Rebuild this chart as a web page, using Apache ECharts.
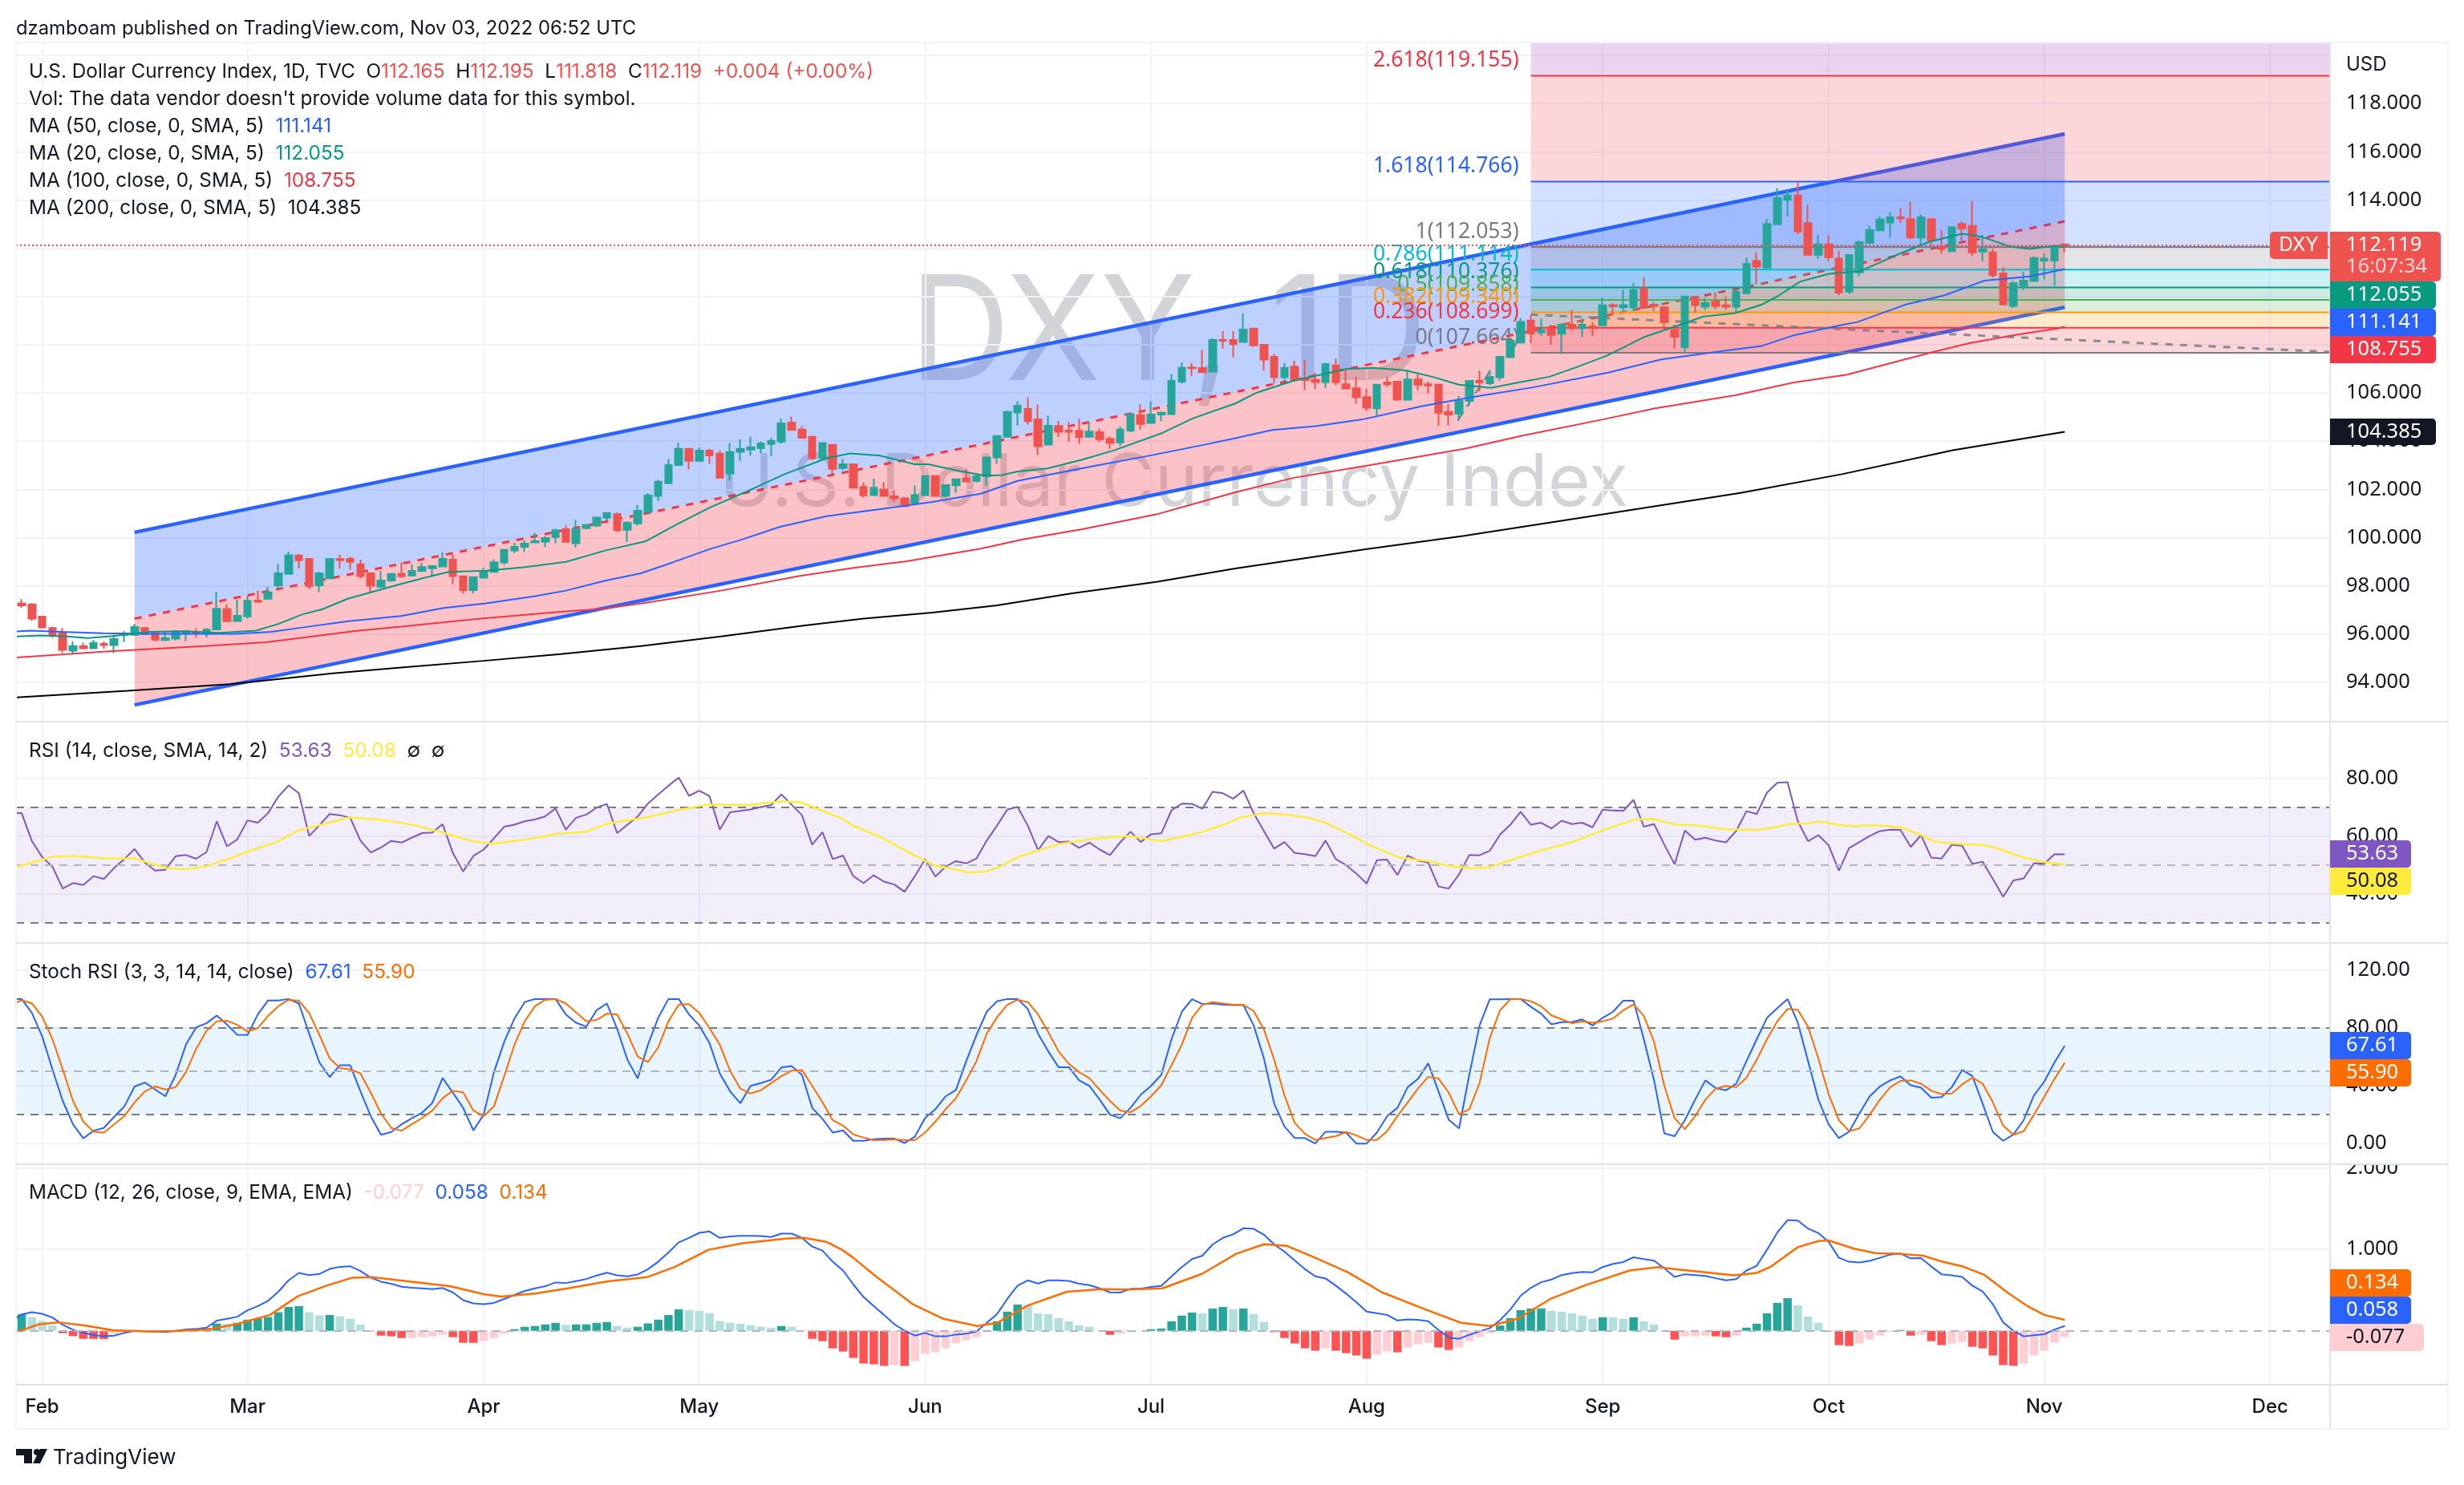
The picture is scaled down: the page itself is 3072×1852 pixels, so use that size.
<!DOCTYPE html>
<html>
<head>
<meta charset="utf-8">
<title>DXY 1D</title>
<script src="https://cdn.jsdelivr.net/npm/echarts@6/dist/echarts.min.js"></script>
<style>
  html, body { margin: 0; padding: 0; background: #fff; }
  #chart { width: 3072px; height: 1852px; }
</style>
</head>
<body>
<div id="chart"></div>
<script>
// ─── Data ───────────────────────────────────────────────────────────────────
// Bar 0 is Jan 28 2022, bar 199 is Nov 3 2022. Trading days, no weekends.

const monthBars = [2, 22, 45, 66, 88, 110, 131, 154, 176, 197, 219];
const monthNames = ['Feb', 'Mar', 'Apr', 'May', 'Jun', 'Jul', 'Aug', 'Sep', 'Oct', 'Nov', 'Dec'];

const opens = [
  97.27,97.23,96.72,96.25,96.03,95.31,95.49,95.41,95.59,95.54,
  95.97,95.97,96.25,96.03,95.75,95.81,96.05,96.09,96.03,96.19,
  97.03,96.54,96.73,97.39,97.46,98.02,98.49,99.26,99.12,98.02,
  98.31,99.11,99.12,98.89,98.52,97.96,98.22,98.49,98.43,98.62,
  98.73,98.80,99.08,98.39,97.82,98.34,98.58,98.97,99.47,99.62,
  99.80,99.83,100.02,100.35,99.77,100.39,100.50,100.82,100.98,100.32,
  100.59,101.07,101.73,102.25,103.01,103.68,103.18,103.61,103.48,102.66,
  103.56,103.65,103.71,103.88,103.98,104.77,104.48,104.18,103.29,103.85,
  102.88,103.04,102.10,101.76,101.99,101.71,101.63,101.44,101.76,102.55,
  101.73,102.17,102.46,102.35,102.55,103.32,104.18,105.19,105.34,104.90,
  103.86,104.63,104.45,104.43,104.18,104.37,104.10,103.95,104.44,105.08,
  104.75,105.10,105.12,106.47,107.06,107.03,106.88,108.20,108.20,108.11,
  108.67,108.00,107.50,106.65,107.09,106.61,106.54,106.45,107.14,106.36,
  106.19,105.83,105.36,106.43,106.47,105.72,106.56,106.36,106.34,105.21,
  105.14,105.67,106.50,106.40,106.65,107.48,108.09,109.00,108.50,108.65,
  108.45,108.83,108.69,108.76,108.80,109.64,109.55,109.55,110.33,109.66,
  109.55,108.61,107.89,109.98,109.58,109.80,109.63,109.58,110.13,111.47,
  111.20,112.99,114.01,114.19,113.04,111.73,112.16,111.57,110.20,111.00,
  112.22,112.74,113.07,113.28,113.21,112.44,113.21,112.07,111.88,113.01,
  112.93,111.86,111.83,110.96,109.61,110.46,110.64,111.49,111.49,112.165,
];
const closes = [
  97.19,96.64,96.27,95.94,95.34,95.50,95.41,95.63,95.54,95.79,
  96.01,96.29,95.99,95.77,95.83,96.12,96.12,96.05,96.18,97.05,
  96.53,96.76,97.38,97.34,97.73,98.52,99.27,99.06,97.99,98.52,
  99.12,99.07,98.99,98.40,98.00,98.22,98.49,98.39,98.62,98.78,
  98.82,99.12,98.40,97.82,98.36,98.61,98.98,99.49,99.62,99.75,
  99.85,99.98,100.31,99.82,100.35,100.52,100.83,101.02,100.31,100.62,
  101.11,101.75,102.32,103.01,103.68,103.18,103.61,103.41,102.48,103.55,
  103.68,103.75,103.91,104.01,104.74,104.46,104.14,103.29,103.92,102.85,
  103.04,102.07,101.75,102.07,101.73,101.62,101.30,101.77,102.55,101.73,
  102.18,102.42,102.33,102.55,103.32,104.21,105.21,105.47,104.83,103.79,
  104.64,104.39,104.39,104.16,104.40,104.08,103.92,104.48,105.12,104.71,
  105.10,105.18,106.51,107.04,107.02,106.86,108.20,108.16,108.02,108.63,
  107.97,107.38,106.65,107.04,106.54,106.53,106.45,107.20,106.44,106.18,
  105.82,105.39,106.34,106.36,105.73,106.56,106.34,106.31,105.18,105.10,
  105.67,106.50,106.43,106.67,107.50,108.17,108.95,108.47,108.61,108.40,
  108.83,108.69,108.83,108.69,109.63,109.59,109.64,110.27,109.53,109.61,
  108.93,108.33,110.00,109.64,109.73,109.60,109.58,110.20,111.35,111.24,
  113.01,114.08,114.19,112.69,111.73,112.16,111.63,110.16,111.72,112.25,
  112.75,113.19,113.28,113.24,112.44,113.28,112.33,111.97,112.88,112.82,
  111.83,111.97,110.89,109.67,110.55,110.66,111.60,111.57,112.08,112.119,
];
const highs = [
  97.45,97.28,96.72,96.31,96.25,95.70,95.63,95.75,95.70,95.97,
  96.12,96.42,96.27,96.05,96.12,96.16,96.16,96.25,96.25,97.75,
  97.23,97.42,97.58,97.80,97.95,98.91,99.42,99.32,99.13,98.58,
  99.13,99.28,99.21,99.08,98.52,98.62,98.52,98.98,98.89,98.96,
  98.86,99.39,99.30,98.41,98.38,98.75,99.09,99.51,99.78,99.89,
  100.19,100.06,100.37,100.52,100.74,100.57,100.87,101.04,101.04,100.66,
  101.35,101.85,102.39,103.27,103.94,103.68,103.73,103.68,103.61,103.93,
  104.07,104.18,103.98,104.14,104.94,105.01,104.62,104.18,103.96,103.88,
  103.27,103.07,102.29,102.44,102.29,101.96,101.68,102.17,102.57,102.57,
  102.21,102.46,102.84,102.63,103.35,104.23,105.26,105.65,105.81,105.51,
  105.06,104.84,104.79,104.93,104.79,104.51,104.20,104.61,105.15,105.53,
  105.64,105.23,106.78,107.26,107.23,107.80,108.27,108.56,108.56,109.30,
  108.69,108.03,107.61,107.25,107.34,107.36,106.84,107.25,107.43,106.95,
  106.67,106.18,106.36,106.67,106.47,106.89,106.78,106.47,106.36,105.54,
  105.87,106.53,106.93,106.95,107.54,108.17,109.11,109.22,109.09,108.83,
  108.89,109.44,109.09,108.94,109.94,109.72,110.27,110.55,110.80,109.77,
  109.55,108.83,110.00,110.00,109.94,110.17,110.00,110.27,111.60,111.83,
  113.21,114.49,114.43,114.77,113.79,112.55,112.55,111.88,111.72,112.33,
  112.94,113.32,113.49,113.66,113.92,113.41,113.21,112.77,112.90,113.10,
  113.96,112.55,111.99,111.22,110.64,111.03,111.66,111.79,112.16,112.195,
];
const lows = [
  97.08,96.55,96.23,95.84,95.23,95.14,95.37,95.39,95.39,95.21,
  95.67,95.94,95.96,95.70,95.73,95.73,95.70,95.86,95.86,96.19,
  96.53,96.54,96.64,97.30,97.46,97.88,98.49,98.72,97.86,97.74,
  98.31,98.71,98.67,98.30,97.75,97.91,98.16,98.34,98.40,98.58,
  98.41,98.80,98.06,97.69,97.69,98.31,98.54,98.87,99.36,99.40,
  99.77,99.62,99.77,99.82,99.59,100.39,100.44,100.71,100.23,99.82,
  100.49,101.07,101.52,102.22,102.98,102.83,103.18,103.06,102.45,102.36,
  103.18,103.41,103.51,103.38,103.90,104.43,104.12,103.21,103.24,102.63,
  102.79,102.04,101.66,101.74,101.71,101.46,101.30,101.41,101.74,101.71,
  101.68,101.85,102.29,102.29,102.15,103.07,104.18,104.65,104.68,103.43,
  103.86,104.18,103.97,103.88,104.14,103.97,103.68,103.81,104.37,104.48,
  104.75,104.82,105.12,106.39,106.71,106.82,106.87,107.84,107.47,108.09,
  107.91,106.92,106.39,106.47,106.47,106.12,106.16,106.21,106.32,106.14,
  105.56,105.25,105.03,106.25,105.67,105.71,106.12,105.98,104.65,104.65,
  104.84,105.47,106.06,106.32,106.50,107.48,108.06,108.06,108.37,108.00,
  107.61,108.58,108.31,108.36,108.78,109.24,109.39,109.39,109.50,109.39,
  108.61,107.84,107.67,109.33,109.44,109.47,109.44,109.33,110.13,110.50,
  111.16,112.97,113.32,112.58,111.72,111.57,111.46,110.05,110.11,110.83,
  112.22,112.71,112.44,113.05,112.38,112.16,112.10,111.77,111.86,112.21,
  111.68,111.46,110.77,109.64,109.53,110.27,110.61,110.72,110.44,111.818,
];

// moving averages, read at the bars where the curve bends
const ma200Bars = [-0.5,10.3,20.3,30.3,36.95,45,52.5,60.3,68.1,76.3,82,88.7,95,102.3,110.5,118.2,130.9,140.5,154,167.4,177.3,188.1,199];
const ma200Values = [93.37,93.65,93.92,94.37,94.61,94.89,95.17,95.50,95.90,96.36,96.64,96.89,97.19,97.69,98.16,98.72,99.52,100.07,100.96,101.85,102.63,103.62,104.385];

const ma100Bars = [-0.5,7.9,17.8,23.8,32.8,36.95,44.7,52.5,56.6,60.8,68.1,75.8,81,86.2,93.4,97.6,103.3,110.5,114.7,118.2,123.9,131.7,140.5,146.2,154,159.1,166.9,172.6,177.8,182,186.1,189.7,194.4,198.5,199];
const ma100Values = [95.03,95.27,95.50,95.66,96.14,96.31,96.64,96.92,97.05,97.30,97.80,98.41,98.74,99.02,99.54,99.93,100.35,100.96,101.46,101.88,102.48,103.03,103.68,104.23,104.90,105.36,105.90,106.43,106.76,107.23,107.69,108.06,108.42,108.69,108.755];

const ma50Bars = [-0.5,0.9,3.9,7.9,12.8,20.8,24.3,27.3,31.8,36.95,41.1,45.2,49.9,53,56.9,60.3,63.4,67,70.1,73.8,78.4,83.6,88.7,93.4,97,104.3,109.5,114.7,118.2,121.8,126,130.6,136.4,141.5,147.2,154.5,159.7,166.4,169.5,172.6,176.8,178.8,183.5,187.3,191.2,195.6,199];
const ma50Values = [96.11,96.14,96.09,96.03,96.01,96.01,96.09,96.27,96.53,96.75,97.08,97.27,97.56,97.80,98.22,98.52,98.97,99.52,99.91,100.44,100.89,101.18,101.48,101.82,102.35,102.96,103.37,103.81,104.12,104.46,104.62,104.90,105.45,105.84,106.23,106.84,107.39,107.78,107.95,108.39,108.78,108.94,109.665,110.05,110.66,110.83,111.141];

const ma20Bars = [-0.5,1.9,4.4,6.4,8.9,12.4,15.8,19.3,22.8,25,27.3,29.3,31.8,36.95,39.5,41.6,45.2,48.9,53,56.9,60.8,63.9,67,71.2,74.3,78.4,80.7,83.6,87,88.3,91.4,93.9,95.5,97,99.9,103.3,106.4,111.1,114.1,118.2,120.3,123.9,129.1,131.7,134.8,137.4,140,143.1,146.2,148.8,151.4,154.5,158.1,161.2,163.8,166.9,169.5,171,173.2,176,179.1,182.9,185.8,189,190.8,193.7,195.6,198.1,199];
const ma20Values = [95.90,95.94,95.90,95.83,95.92,96.09,96.12,96.05,96.14,96.42,96.81,97.03,97.47,98.08,98.36,98.58,98.63,98.77,98.99,99.47,99.85,100.57,101.24,102.02,102.63,103.29,103.49,103.40,103.04,103.04,102.76,102.57,102.59,102.74,102.87,103.23,103.62,104.34,104.95,105.56,106.01,106.51,107.00,107.04,106.93,106.67,106.34,106.21,106.47,106.67,107.06,107.56,108.33,108.78,109.17,109.31,109.665,110.00,110.61,110.94,111.05,111.77,112.27,112.60,112.49,112.07,111.97,112.10,112.055];

// drawings: regression channel, fib levels, two grey dashed lines
const channelBars = [11, 199];
const channelUpper = [100.22, 116.74];
const channelMedian = [96.64, 113.12];
const channelLower = [93.06, 109.55];

const fibStartBar = 147;
const fibRatios = ['2.618', '1.618', '1', '0.786', '0.618', '0.5', '0.382', '0.236', '0'];
const fibPrices = [119.155, 114.766, 112.053, 111.114, 110.376, 109.858, 109.340, 108.699, 107.664];
const fibTrendBars = [147, 224.84];
const fibTrendValues = [109.25, 107.70];
const stubBars = [139.9, 143];
const stubValues = [104.87, 106.90];

const lastPrice = 112.119;

// indicators start one bar before the first candle, at bar -1
const rsiValues = [
  67.9,67.9,58.2,52.7,49.4,41.8,43.7,43.0,46.1,45.1,48.9,52.0,55.5,50.8,48.0,48.3,53.0,53.4,52.1,54.4,65.1,
  56.4,58.8,65.4,64.6,67.9,73.6,77.5,74.8,60.0,63.7,67.6,67.2,66.3,58.4,54.3,56.0,58.3,57.7,59.4,61.0,
  61.2,64.1,54.1,47.7,53.1,55.3,59.2,63.2,63.9,65.1,65.7,66.8,69.5,62.2,66.3,67.4,69.8,71.1,61.0,63.9,
  66.7,71.2,74.4,77.4,80.2,73.9,75.7,73.8,62.2,68.2,68.7,69.2,70.0,70.7,74.4,70.8,67.2,57.0,61.3,52.0,
  53.2,46.1,43.7,46.4,44.2,43.2,40.7,46.1,52.0,45.9,49.4,51.3,50.5,52.2,58.4,63.6,69.1,70.1,63.6,55.1,
  60.0,57.9,58.1,55.9,57.7,55.3,53.4,57.8,61.5,57.9,60.6,60.9,68.9,71.2,71.1,69.4,75.3,74.8,72.9,75.7,
  67.9,61.7,55.6,57.9,54.1,53.7,53.0,58.4,52.0,49.9,47.0,43.5,51.6,51.8,46.5,53.2,51.5,50.8,42.5,41.8,
  46.7,53.4,53.3,54.9,60.5,63.9,68.4,63.9,64.6,62.6,65.3,64.1,64.6,63.0,69.1,68.8,68.7,72.5,63.2,64.1,
  57.0,50.2,61.9,58.7,59.4,58.4,57.8,61.7,68.6,67.6,75.0,78.4,78.6,65.1,58.2,60.3,56.8,48.0,55.8,57.9,
  60.0,61.7,62.2,62.1,56.2,60.3,52.5,52.2,57.0,56.6,50.3,51.1,45.1,38.9,44.6,45.3,50.6,50.4,53.7,53.63,
];
const rsiMaBars = [-0.4,3.1,5,8.3,11,14.1,16,18.2,20.4,22,25,26.9,29.4,31.9,35.2,38.2,41.2,43.9,45.8,49.4,52.1,54.9,57.1,60.9,64.2,66.9,70.8,74,75.9,77.9,79.9,81,83.2,84.8,87,89,91,92.2,93.9,95.2,96.9,99.1,101,104,107.8,111.1,113.3,114.9,117.2,118.8,121,123.2,125.1,127,129.2,131.2,134.2,137,139,141.3,143,146.2,147.9,151.2,154,157.2,158.9,161,163.2,166.1,169,171.1,172.1,174,175.1,177.2,178.4,180.6,183,185,186.2,188.1,191,192.2,195.1,197,199];
const rsiMaValues = [49.4,52.9,53.1,52.2,52.2,48.9,48.4,49.7,52.4,54.6,58.1,61.9,64.1,66.4,65.6,63.8,61.0,58.2,57.3,58.9,60.7,61.4,64.3,66.5,69.2,70.9,70.7,72.0,71.6,68.9,66.0,63.6,60.3,57.5,53.2,49.7,48.4,47.4,47.7,49.2,52.5,55.1,57.2,58.9,60.0,58.2,60.0,61.3,64.1,66.5,67.9,67.4,66.5,64.6,60.8,57.0,52.5,51.3,49.7,48.8,49.2,53.0,54.9,58.1,62.0,65.8,65.9,64.0,63.6,62.3,62.1,63.2,64.1,64.4,65.1,63.7,63.4,63.7,63.0,60.3,58.1,57.4,56.9,56.0,52.4,51.0,50.08];

const stochK = [
  100,100,90.3,74.1,51.3,29.5,13.3,3.6,8.9,10.8,18.4,25.7,39.5,42.2,37.4,32.7,47.5,68.4,80.4,83.2,88.5,
  82.3,75.2,75.1,89.3,99.0,99.0,100,96.9,76.0,56.1,46.0,54.2,54.2,36.1,19.0,6.1,8.0,13.3,17.5,21.3,
  28.1,45.4,35.2,24.7,9.1,20.0,49.4,70.3,86.5,97.9,100,100,100,89.3,83.6,80.9,92.2,96.9,79.4,58.0,
  45.0,68.4,87.0,100,100,89.3,81.7,69.4,48.5,36.1,27.9,39.9,41.8,44.1,52.6,53.6,47.5,24.7,17.1,7.6,
  9.1,1.9,1.9,3.0,3.4,3.4,0.4,4.8,17.7,23.8,32.7,37.1,57.0,75.1,91.2,98.4,100,100,93.1,76.0,
  63.7,52.8,52.8,43.7,39.9,30.4,20.0,17.5,24.7,33.8,39.9,47.5,72.2,91.2,99.9,96.5,96.9,96.0,95.8,95.8,
  81.7,58.9,27.6,11.8,3.8,3.8,0,8.2,8.2,7.6,0,0,7.6,19.0,24.7,39.0,44.7,55.5,36.1,16.5,
  10.5,47.5,81.7,99.8,99.8,100,100,94.6,89.9,82.5,84.0,84.0,85.9,81.7,87.0,91.2,98.8,98.8,72.2,43.7,
  7.0,5.1,16.2,30.4,43.7,38.4,36.9,41.4,57.0,72.2,87.0,93.7,100,83.6,57.0,30.4,13.3,3.8,8.2,20.9,
  32.7,39.5,43.7,46.4,40.3,38.6,31.7,32.1,39.0,50.9,46.7,27.6,8.0,1.9,6.3,16.2,33.3,42.8,56.1,67.61,
];
const stochD = [
  96.0,99.2,96.9,87.8,72.2,51.3,29.5,15.2,8.2,7.6,13.3,19.0,28.5,36.1,39.5,37.4,39.0,49.4,65.6,77.9,84.6,
  84.9,82.1,77.5,79.8,88.4,95.0,99.4,98.8,90.3,75.1,58.9,52.3,51.3,48.5,35.2,20.9,10.8,8.9,13.3,17.7,
  22.8,31.4,36.5,35.5,22.8,19.0,25.7,46.6,68.4,84.6,95.0,99.4,100,96.9,90.8,84.6,85.5,89.9,89.3,76.0,
  60.2,56.4,66.5,84.6,96.0,96.5,90.3,79.8,68.4,50.4,38.0,34.6,36.9,41.8,46.6,50.4,50.9,39.9,28.5,16.2,
  12.4,6.3,4.2,2.3,2.5,2.9,2.5,2.3,7.6,15.2,23.8,31.4,43.7,57.0,76.0,87.4,96.0,99.4,97.9,89.3,
  77.0,63.7,55.1,49.4,45.2,37.1,29.5,22.8,21.7,26.0,32.7,40.3,54.2,68.4,87.0,96.0,97.9,96.9,96.1,96.0,
  91.6,78.9,58.0,33.3,14.3,6.7,2.5,3.8,5.1,8.0,5.7,2.5,2.5,8.6,19.0,28.5,38.0,46.2,45.0,35.2,
  20.3,23.8,41.8,73.2,92.2,99.8,100,98.4,95.0,88.7,85.9,83.2,84.6,83.6,84.6,86.5,92.2,96.3,88.4,70.3,
  39.9,17.5,9.9,19.0,30.4,38.0,39.9,39.0,45.6,58.0,72.2,84.6,93.1,92.5,80.8,58.9,34.2,16.2,8.6,10.5,
  20.0,30.4,39.0,43.3,43.7,41.4,36.5,34.2,34.6,40.9,45.6,41.4,28.5,12.4,6.1,8.6,20.0,32.3,44.7,55.90,
];

const macdValues = [
  0.114,0.202,0.228,0.209,0.163,0.075,0.013,-0.026,-0.052,-0.068,-0.059,-0.026,0,-0.003,-0.010,-0.016,0,0.016,0.023,0.039,0.124,
  0.147,0.173,0.251,0.303,0.368,0.479,0.619,0.710,0.684,0.697,0.759,0.785,0.792,0.733,0.652,0.603,0.577,0.541,0.528,0.521,
  0.512,0.525,0.472,0.375,0.336,0.326,0.342,0.391,0.440,0.489,0.521,0.547,0.593,0.586,0.609,0.635,0.678,0.713,0.681,0.668,
  0.691,0.756,0.847,0.961,1.085,1.140,1.202,1.218,1.140,1.157,1.166,1.166,1.163,1.150,1.192,1.192,1.140,1.033,0.984,0.847,
  0.740,0.570,0.414,0.303,0.195,0.081,0,-0.059,-0.026,-0.068,-0.068,-0.046,-0.036,-0.007,0.098,0.205,0.391,0.554,0.619,0.580,
  0.619,0.619,0.612,0.577,0.560,0.521,0.472,0.469,0.515,0.515,0.538,0.551,0.668,0.782,0.880,0.922,1.059,1.140,1.183,1.258,
  1.251,1.179,1.059,0.971,0.863,0.756,0.668,0.642,0.554,0.456,0.352,0.235,0.215,0.195,0.127,0.140,0.134,0.117,0.010,-0.081,
  -0.098,-0.049,-0.007,0.033,0.130,0.261,0.430,0.528,0.596,0.629,0.684,0.707,0.723,0.717,0.782,0.821,0.844,0.902,0.880,0.860,
  0.766,0.661,0.694,0.684,0.674,0.645,0.619,0.635,0.740,0.798,0.994,1.205,1.359,1.352,1.254,1.199,1.091,0.896,0.847,0.837,
  0.857,0.896,0.935,0.948,0.889,0.893,0.788,0.694,0.681,0.661,0.554,0.482,0.326,0.104,0,-0.068,-0.055,-0.042,0.016,0.058,
];
const signalBars = [-0.3,1.7,3.6,6.1,8.9,12.2,14.9,18.2,20.9,24.2,26.9,29.7,32.2,34.1,37.3,41.7,45,46.7,50,53.2,57.1,60.9,63.6,66.9,70.2,74.6,76.2,78.4,79.9,81,83.2,86.8,89.8,93.1,95,98,101.8,105.1,107.8,111.1,115,118.3,121,123.2,126,129.2,132.5,136.9,140.2,143,145.7,148.9,152.2,156.6,159.4,161,166.8,169,170.3,173,175,176,178.4,180.6,182.8,185.2,187.1,189.1,191.2,193.4,195.4,197,199];
const signalValues = [-0.007,0.081,0.104,0.065,0.007,-0.007,-0.003,0.016,0.081,0.195,0.424,0.554,0.652,0.658,0.612,0.547,0.450,0.420,0.456,0.521,0.606,0.658,0.782,0.994,1.075,1.134,1.140,1.091,0.994,0.896,0.668,0.326,0.147,0.059,0.098,0.310,0.479,0.512,0.505,0.521,0.700,0.945,1.062,1.043,0.896,0.717,0.472,0.254,0.098,0.059,0.147,0.391,0.554,0.740,0.782,0.756,0.681,0.710,0.782,1.026,1.101,1.108,1.010,0.951,0.945,0.922,0.847,0.788,0.684,0.472,0.300,0.195,0.134];
const histValues = [
  0.202,0.169,0.121,0.065,-0.029,-0.065,-0.098,-0.099,-0.100,-0.039,
  -0.023,-0.007,-0.003,-0.007,-0.013,-0.003,0.007,0.016,0.033,0.088,
  0.086,0.098,0.137,0.150,0.169,0.228,0.293,0.303,0.228,0.189,
  0.195,0.176,0.147,0.078,-0.007,-0.059,-0.068,-0.088,-0.085,-0.078,
  -0.068,-0.049,-0.078,-0.147,-0.148,-0.124,-0.088,-0.036,0.020,0.049,
  0.059,0.078,0.098,0.072,0.078,0.079,0.098,0.108,0.059,0.039,
  0.049,0.091,0.137,0.195,0.264,0.254,0.244,0.215,0.121,0.098,
  0.088,0.068,0.049,0.039,0.059,0.049,0.007,-0.098,-0.127,-0.215,
  -0.254,-0.332,-0.401,-0.411,-0.430,-0.420,-0.431,-0.371,-0.283,-0.264,
  -0.215,-0.156,-0.117,-0.078,0.007,0.117,0.235,0.323,0.313,0.215,
  0.205,0.156,0.117,0.068,0.049,0.007,-0.049,-0.036,0.007,0.005,
  0.020,0.029,0.117,0.186,0.225,0.215,0.274,0.293,0.264,0.274,
  0.205,0.108,-0.016,-0.088,-0.156,-0.215,-0.244,-0.215,-0.244,-0.274,
  -0.303,-0.342,-0.293,-0.254,-0.264,-0.205,-0.166,-0.147,-0.205,-0.235,
  -0.205,-0.127,-0.078,-0.029,0.065,0.156,0.254,0.274,0.275,0.244,
  0.235,0.215,0.186,0.147,0.166,0.165,0.147,0.166,0.117,0.078,
  0.007,-0.108,-0.068,-0.067,-0.059,-0.068,-0.078,-0.059,0.039,0.088,
  0.215,0.342,0.401,0.313,0.176,0.098,-0.007,-0.176,-0.186,-0.156,
  -0.108,-0.059,-0.016,0.010,-0.059,-0.049,-0.127,-0.176,-0.156,-0.137,
  -0.195,-0.215,-0.303,-0.420,-0.430,-0.401,-0.303,-0.244,-0.147,-0.077,
];

const priceTicks = [94,96,98,100,102,104,106,108,110,112,114,116,118,120];
const rsiTicks = [40, 60, 80];
const stochTicks = [0, 40, 80, 120];
const macdTicks = [1, 2];

// ─── Style constants ────────────────────────────────────────────────────────

const FONT = 'Inter, "Liberation Sans", sans-serif';
// price scale digits are tabular in the reference, Inter's 1 is not
const NUM_FONT = '"Noto Sans", "Open Sans", sans-serif';
const NUM_SIZE = 25.5;
const LEGEND_SIZE = 24.35;
const INK = '#131722';
const GRID = '#f0f3fa';
const SEP = '#e0e3eb';
const UP = '#26a69a';
const DOWN = '#ef5350';
const BLUE = '#2962ff';
const RED = '#f23645';
const TEAL = '#089981';
const GREY = '#787b86';
const ORANGE = '#ff6d00';
const PURPLE = '#7e57c2';
const YELLOW = '#ffeb3b';

const FIB_COLORS = [RED, BLUE, GREY, '#00bcd4', TEAL, '#4caf50', '#ff9800', RED, GREY];
const FIB_FILLS = [
  'rgba(156,39,176,0.2)', 'rgba(242,54,69,0.2)', 'rgba(41,98,255,0.2)', 'rgba(120,123,134,0.2)',
  'rgba(0,188,212,0.2)', 'rgba(8,153,129,0.2)', 'rgba(76,175,80,0.2)', 'rgba(255,152,0,0.2)', 'rgba(242,54,69,0.2)',
];

const X_MIN = -0.547;
const X_MAX = 224.84;
const RIGHT = 2905;
const PANES = [
  { top: 54, bottom: 899, min: 92.40, max: 120.50, ticks: priceTicks, digits: 3 },
  { top: 901, bottom: 1175, min: 23.24, max: 99.3, ticks: rsiTicks, digits: 2 },
  { top: 1177, bottom: 1451, min: -13.76, max: 138.2, ticks: stochTicks, digits: 2 },
  { top: 1453, bottom: 1726, min: -0.652, max: 2.033, ticks: macdTicks, digits: 3 },
];

// ─── Helpers ────────────────────────────────────────────────────────────────

const zip = (xs, ys) => xs.map((x, k) => [x, ys[k]]);
const fromBarMinusOne = (values) => values.map((v, k) => [k - 1, v]);

function line(name, pane, data, color, width, z, extra) {
  return Object.assign({
    name, type: 'line', xAxisIndex: pane, yAxisIndex: pane, data,
    showSymbol: false, symbol: 'none', smooth: false, silent: true, z,
    lineStyle: { color, width },
    clip: true,
  }, extra || {});
}

function polygons(name, items, z) {
  return {
    name, type: 'custom', xAxisIndex: 0, yAxisIndex: 0, z, silent: true, clip: true,
    data: items.map((_, k) => [k]),
    encode: { x: 0 },
    renderItem(params, api) {
      const item = items[params.dataIndex];
      return {
        type: 'polygon',
        shape: { points: item.points.map((p) => api.coord(p)) },
        style: { fill: item.fill },
      };
    },
  };
}

function hLines(levels) {
  return {
    silent: true, symbol: 'none', animation: false, label: { show: false },
    data: levels.map(([yAxis, color]) => ({
      yAxis, lineStyle: { color, width: 2, type: [10, 8] },
    })),
  };
}

function text(x, y, str, opts) {
  return {
    type: 'text', x, y, z: 60, silent: true,
    style: Object.assign({
      text: str, font: `${LEGEND_SIZE}px ${FONT}`, fill: INK, verticalAlign: 'middle', align: 'left',
    }, opts || {}),
  };
}

function tag(top, bottom, right, fill, label, color) {
  return [
    { type: 'rect', z: 70, silent: true,
      shape: { x: RIGHT, y: top, width: right - RIGHT, height: bottom - top, r: [0, 5, 5, 0] },
      style: { fill } },
    { type: 'text', z: 71, silent: true, x: 2925, y: (top + bottom) / 2,
      style: { text: label, font: `${NUM_SIZE}px ${NUM_FONT}`, fill: color, verticalAlign: 'middle' } },
  ];
}

function legendRow(y, parts) {
  const rich = {};
  let str = '';
  parts.forEach(([s, color], k) => {
    rich['p' + k] = { fill: color, font: `${LEGEND_SIZE}px ${FONT}` };
    str += `{p${k}|${s}}`;
  });
  return { type: 'text', x: 36, y, z: 60, silent: true,
    style: { text: str, rich, verticalAlign: 'middle' } };
}

// ─── Series ─────────────────────────────────────────────────────────────────

const channelPolys = [
  { points: [[channelBars[0], channelUpper[0]], [channelBars[1], channelUpper[1]],
             [channelBars[1], channelMedian[1]], [channelBars[0], channelMedian[0]]],
    fill: 'rgba(41,98,255,0.3)' },
  { points: [[channelBars[0], channelMedian[0]], [channelBars[1], channelMedian[1]],
             [channelBars[1], channelLower[1]], [channelBars[0], channelLower[0]]],
    fill: 'rgba(242,54,69,0.3)' },
];

const fibPolys = fibPrices.map((price, k) => {
  const upper = k === 0 ? PANES[0].max : fibPrices[k - 1];
  return {
    points: [[fibStartBar, upper], [X_MAX, upper], [X_MAX, price], [fibStartBar, price]],
    fill: FIB_FILLS[k],
  };
});

const candleData = opens.map((o, i) => [i, o, closes[i], lows[i], highs[i]]);

const histBars = histValues.map((v, i) => {
  const prev = i === 0 ? -Infinity : histValues[i - 1];
  const color = v >= 0 ? (v > prev ? UP : '#b2dfdb') : (v < prev ? '#ff5252' : '#ffcdd2');
  return { value: [i, v], itemStyle: { color } };
});

const series = [
  // channel first, fib overlay tints it
  polygons('channel', channelPolys, 1),
  line('channelUpper', 0, zip(channelBars, channelUpper), BLUE, 4.5, 1.1),
  line('channelLower', 0, zip(channelBars, channelLower), BLUE, 4.5, 1.1),
  line('channelMedian', 0, zip(channelBars, channelMedian), RED, 3, 1.1,
    { lineStyle: { color: RED, width: 3, type: [9, 9] } }),
  polygons('fibBands', fibPolys, 1.2),
  ...fibPrices.map((p, k) => line('fib' + fibRatios[k], 0, [[fibStartBar, p], [X_MAX, p]], FIB_COLORS[k], 2, 1.3)),
  line('fibTrend', 0, zip(fibTrendBars, fibTrendValues), GREY, 3, 1.3,
    { lineStyle: { color: GREY, width: 3, type: [9, 9], opacity: 0.85 } }),
  line('stub', 0, zip(stubBars, stubValues), GREY, 2, 1.3,
    { lineStyle: { color: GREY, width: 2, type: [12, 8] } }),
  {
    name: 'fibLabels', type: 'custom', xAxisIndex: 0, yAxisIndex: 0, z: 1.4, silent: true, clip: false,
    data: fibPrices.map((_, k) => [k]),
    encode: { x: 0 },
    renderItem(params, api) {
      const k = params.dataIndex;
      const pos = api.coord([fibStartBar, fibPrices[k]]);
      return {
        type: 'text', x: pos[0] - 15, y: pos[1] - 19,
        style: {
          text: `${fibRatios[k]}(${fibPrices[k].toFixed(3)})`,
          font: `26.5px ${NUM_FONT}`, fill: FIB_COLORS[k], align: 'right', verticalAlign: 'middle',
        },
      };
    },
  },
  {
    // body outline adds the border width, so 9 + 2 gives the 11 px body
    name: 'DXY', type: 'candlestick', xAxisIndex: 0, yAxisIndex: 0, z: 3, silent: true,
    data: candleData, encode: { x: 0, y: [1, 2, 3, 4] }, barWidth: 9,
    itemStyle: { color: UP, color0: DOWN, borderColor: UP, borderColor0: DOWN, borderWidth: 2 },
  },
  line('MA200', 0, zip(ma200Bars, ma200Values), '#000000', 2, 4),
  line('MA100', 0, zip(ma100Bars, ma100Values), RED, 2, 4),
  line('MA50', 0, zip(ma50Bars, ma50Values), BLUE, 2, 4),
  line('MA20', 0, zip(ma20Bars, ma20Values), TEAL, 2, 4),
  line('last', 0, [[X_MIN, lastPrice], [X_MAX, lastPrice]], DOWN, 2, 5,
    { lineStyle: { color: DOWN, width: 2, type: [2, 3] } }),

  line('RSI', 1, fromBarMinusOne(rsiValues), PURPLE, 2, 4, {
    markArea: { silent: true, animation: false, itemStyle: { color: 'rgba(126,87,194,0.1)' },
      data: [[{ yAxis: 30 }, { yAxis: 70 }]] },
    markLine: hLines([[70, GREY], [50, '#b2b5be'], [30, GREY]]),
  }),
  line('RSI MA', 1, zip(rsiMaBars, rsiMaValues), YELLOW, 2.5, 5),

  line('K', 2, fromBarMinusOne(stochK), BLUE, 2, 4, {
    markArea: { silent: true, animation: false, itemStyle: { color: 'rgba(33,150,243,0.1)' },
      data: [[{ yAxis: 20 }, { yAxis: 80 }]] },
    markLine: hLines([[80, GREY], [50, '#b2b5be'], [20, GREY]]),
  }),
  line('D', 2, fromBarMinusOne(stochD), ORANGE, 2, 5),

  {
    name: 'Histogram', type: 'bar', xAxisIndex: 3, yAxisIndex: 3, z: 3, silent: true,
    data: histBars, barWidth: 10.5, encode: { x: 0, y: 1 },
    markLine: hLines([[0, '#b2b5be']]),
  },
  line('MACD', 3, fromBarMinusOne(macdValues), BLUE, 2, 4),
  line('Signal', 3, zip(signalBars, signalValues), ORANGE, 2.5, 5),
];

// ─── Static page parts: watermark, legends, axis tags, frame ────────────────

const ohlcRed = DOWN;
const graphics = [
  // watermark sits under everything, the first line is set a bit narrower than Inter
  { type: 'text', x: 1134, y: 419, scaleX: 0.955, z: -1, silent: true,
    style: { text: 'DXY, 1D', font: `182px ${FONT}`, fill: 'rgba(120,123,134,0.33)', verticalAlign: 'middle' } },
  { type: 'text', x: 897, y: 604, z: -1, silent: true,
    style: { text: 'U.S. Dollar Currency Index', font: `91px ${FONT}`, fill: 'rgba(120,123,134,0.33)', verticalAlign: 'middle' } },

  // frame
  { type: 'rect', z: 50, silent: true, shape: { x: 20, y: 53, width: 3032, height: 1729 },
    style: { fill: 'none', stroke: GRID, lineWidth: 2 } },
  ...[900, 1176, 1452, 1727].map((y) => ({ type: 'line', z: 50, silent: true,
    shape: { x1: 20, y1: y, x2: 3052, y2: y }, style: { stroke: SEP, lineWidth: 2 } })),
  { type: 'line', z: 50, silent: true, shape: { x1: RIGHT, y1: 53, x2: RIGHT, y2: 1782 },
    style: { stroke: SEP, lineWidth: 2 } },
  // the 2.000 label runs into the pane above, cut it off there
  { type: 'rect', z: 49, silent: true, shape: { x: 2907, y: 1442, width: 143, height: 9 }, style: { fill: '#fff' } },

  text(20, 36, 'dzamboam published on TradingView.com, Nov 03, 2022 06:52 UTC', { font: `23.8px ${FONT}` }),

  legendRow(90, [['U.S. Dollar Currency Index, 1D, TVC  O', INK], ['112.165', ohlcRed], ['  H', INK], ['112.195', ohlcRed],
    ['  L', INK], ['111.818', ohlcRed], ['  C', INK], ['112.119', ohlcRed], ['  +0.004 (+0.00%)', ohlcRed]]),
  text(36, 124, "Vol: The data vendor doesn't provide volume data for this symbol."),
  legendRow(158, [['MA (50, close, 0, SMA, 5)  ', INK], ['111.141', BLUE]]),
  legendRow(192, [['MA (20, close, 0, SMA, 5)  ', INK], ['112.055', TEAL]]),
  legendRow(226, [['MA (100, close, 0, SMA, 5)  ', INK], ['108.755', RED]]),
  legendRow(260, [['MA (200, close, 0, SMA, 5)  ', INK], ['104.385', INK]]),
  legendRow(937, [['RSI (14, close, SMA, 14, 2)  ', INK], ['53.63', PURPLE], ['  ', INK], ['50.08', YELLOW], ['  ∅  ∅', INK]]),
  legendRow(1213, [['Stoch RSI (3, 3, 14, 14, close)  ', INK], ['67.61', BLUE], ['  ', INK], ['55.90', ORANGE]]),
  legendRow(1488, [['MACD (12, 26, close, 9, EMA, EMA)  ', INK], ['-0.077', '#ffcdd2'], ['  ', INK], ['0.058', BLUE], ['  ', INK], ['0.134', ORANGE]]),

  text(2925, 81, 'USD', { font: `24px ${FONT}` }),

  // axis tags
  { type: 'rect', z: 70, silent: true, shape: { x: 2830, y: 289, width: 72, height: 34, r: [5, 0, 0, 5] }, style: { fill: DOWN } },
  { type: 'text', z: 71, silent: true, x: 2866, y: 306,
    style: { text: 'DXY', font: `24px ${FONT}`, fill: '#fff', align: 'center', verticalAlign: 'middle' } },
  { type: 'rect', z: 70, silent: true, shape: { x: RIGHT, y: 289, width: 138, height: 62, r: [0, 5, 5, 0] }, style: { fill: DOWN } },
  { type: 'text', z: 71, silent: true, x: 2925, y: 306,
    style: { text: '112.119', font: `${NUM_SIZE}px ${NUM_FONT}`, fill: '#fff', verticalAlign: 'middle' } },
  { type: 'text', z: 71, silent: true, x: 2925, y: 333,
    style: { text: '16:07:34', font: `${NUM_SIZE}px ${NUM_FONT}`, fill: 'rgba(255,255,255,0.75)', verticalAlign: 'middle' } },
  ...tag(351, 385, 3037, TEAL, '112.055', '#fff'),
  ...tag(385, 419, 3037, BLUE, '111.141', '#fff'),
  ...tag(419, 453, 3037, RED, '108.755', '#fff'),
  ...tag(522, 555, 3037, INK, '104.385', '#fff'),
  ...tag(1048, 1082, 3006, PURPLE, '53.63', '#fff'),
  ...tag(1082, 1116, 3006, YELLOW, '50.08', INK),
  ...tag(1287, 1321, 3006, BLUE, '67.61', '#fff'),
  ...tag(1321, 1355, 3006, ORANGE, '55.90', '#fff'),
  ...tag(1583, 1617, 3006, ORANGE, '0.134', '#fff'),
  ...tag(1617, 1651, 3006, BLUE, '0.058', '#fff'),
  ...tag(1651, 1685, 3022, '#ffcdd2', '-0.077', INK),

  // TradingView logo mark
  { type: 'polygon', z: 60, silent: true, style: { fill: INK },
    shape: { points: [[20, 1807], [40, 1807], [40, 1825], [30, 1825], [30, 1815], [20, 1815]] } },
  { type: 'circle', z: 60, silent: true, shape: { cx: 46, cy: 1811, r: 4 }, style: { fill: INK } },
  { type: 'polygon', z: 60, silent: true, style: { fill: INK },
    shape: { points: [[50, 1807], [59, 1807], [50, 1825], [41, 1825]] } },
  text(66, 1818, 'TradingView', { font: `26px ${FONT}` }),
];

// ─── Chart ──────────────────────────────────────────────────────────────────

const chart = echarts.init(document.getElementById('chart'), null, { width: 3072, height: 1852 });

chart.setOption({
  animation: false,
  backgroundColor: '#ffffff',
  textStyle: { fontFamily: FONT },
  grid: PANES.map((p) => ({ left: 20, right: 3072 - RIGHT, top: p.top, height: p.bottom - p.top, containLabel: false })),
  xAxis: PANES.map((_, k) => ({
    type: 'value', gridIndex: k, min: X_MIN, max: X_MAX, position: 'bottom',
    axisLine: { show: false },
    axisTick: { show: false, customValues: monthBars },
    splitLine: { show: true, customValues: monthBars, lineStyle: { color: GRID, width: 2 } },
    axisLabel: k === PANES.length - 1 ? {
      show: true, customValues: monthBars, margin: 17, hideOverlap: false,
      color: INK, fontFamily: FONT, fontSize: 24, fontWeight: 500,
      formatter: (v) => monthNames[monthBars.indexOf(v)] || '',
    } : { show: false },
  })),
  yAxis: PANES.map((p, k) => ({
    type: 'value', gridIndex: k, min: p.min, max: p.max, position: 'right', scale: true,
    axisLine: { show: false },
    axisTick: { show: false, customValues: p.ticks },
    splitLine: { show: true, customValues: p.ticks, lineStyle: { color: GRID, width: 2 } },
    axisLabel: {
      show: true, customValues: p.ticks, margin: 20, hideOverlap: false, padding: [2, 0, 0, 0],
      color: INK, fontFamily: NUM_FONT, fontSize: NUM_SIZE,
      formatter: (v) => (k === 0 && v === 120 ? '' : v.toFixed(p.digits)),
    },
  })),
  series,
  graphic: { elements: graphics },
});
</script>
</body>
</html>
